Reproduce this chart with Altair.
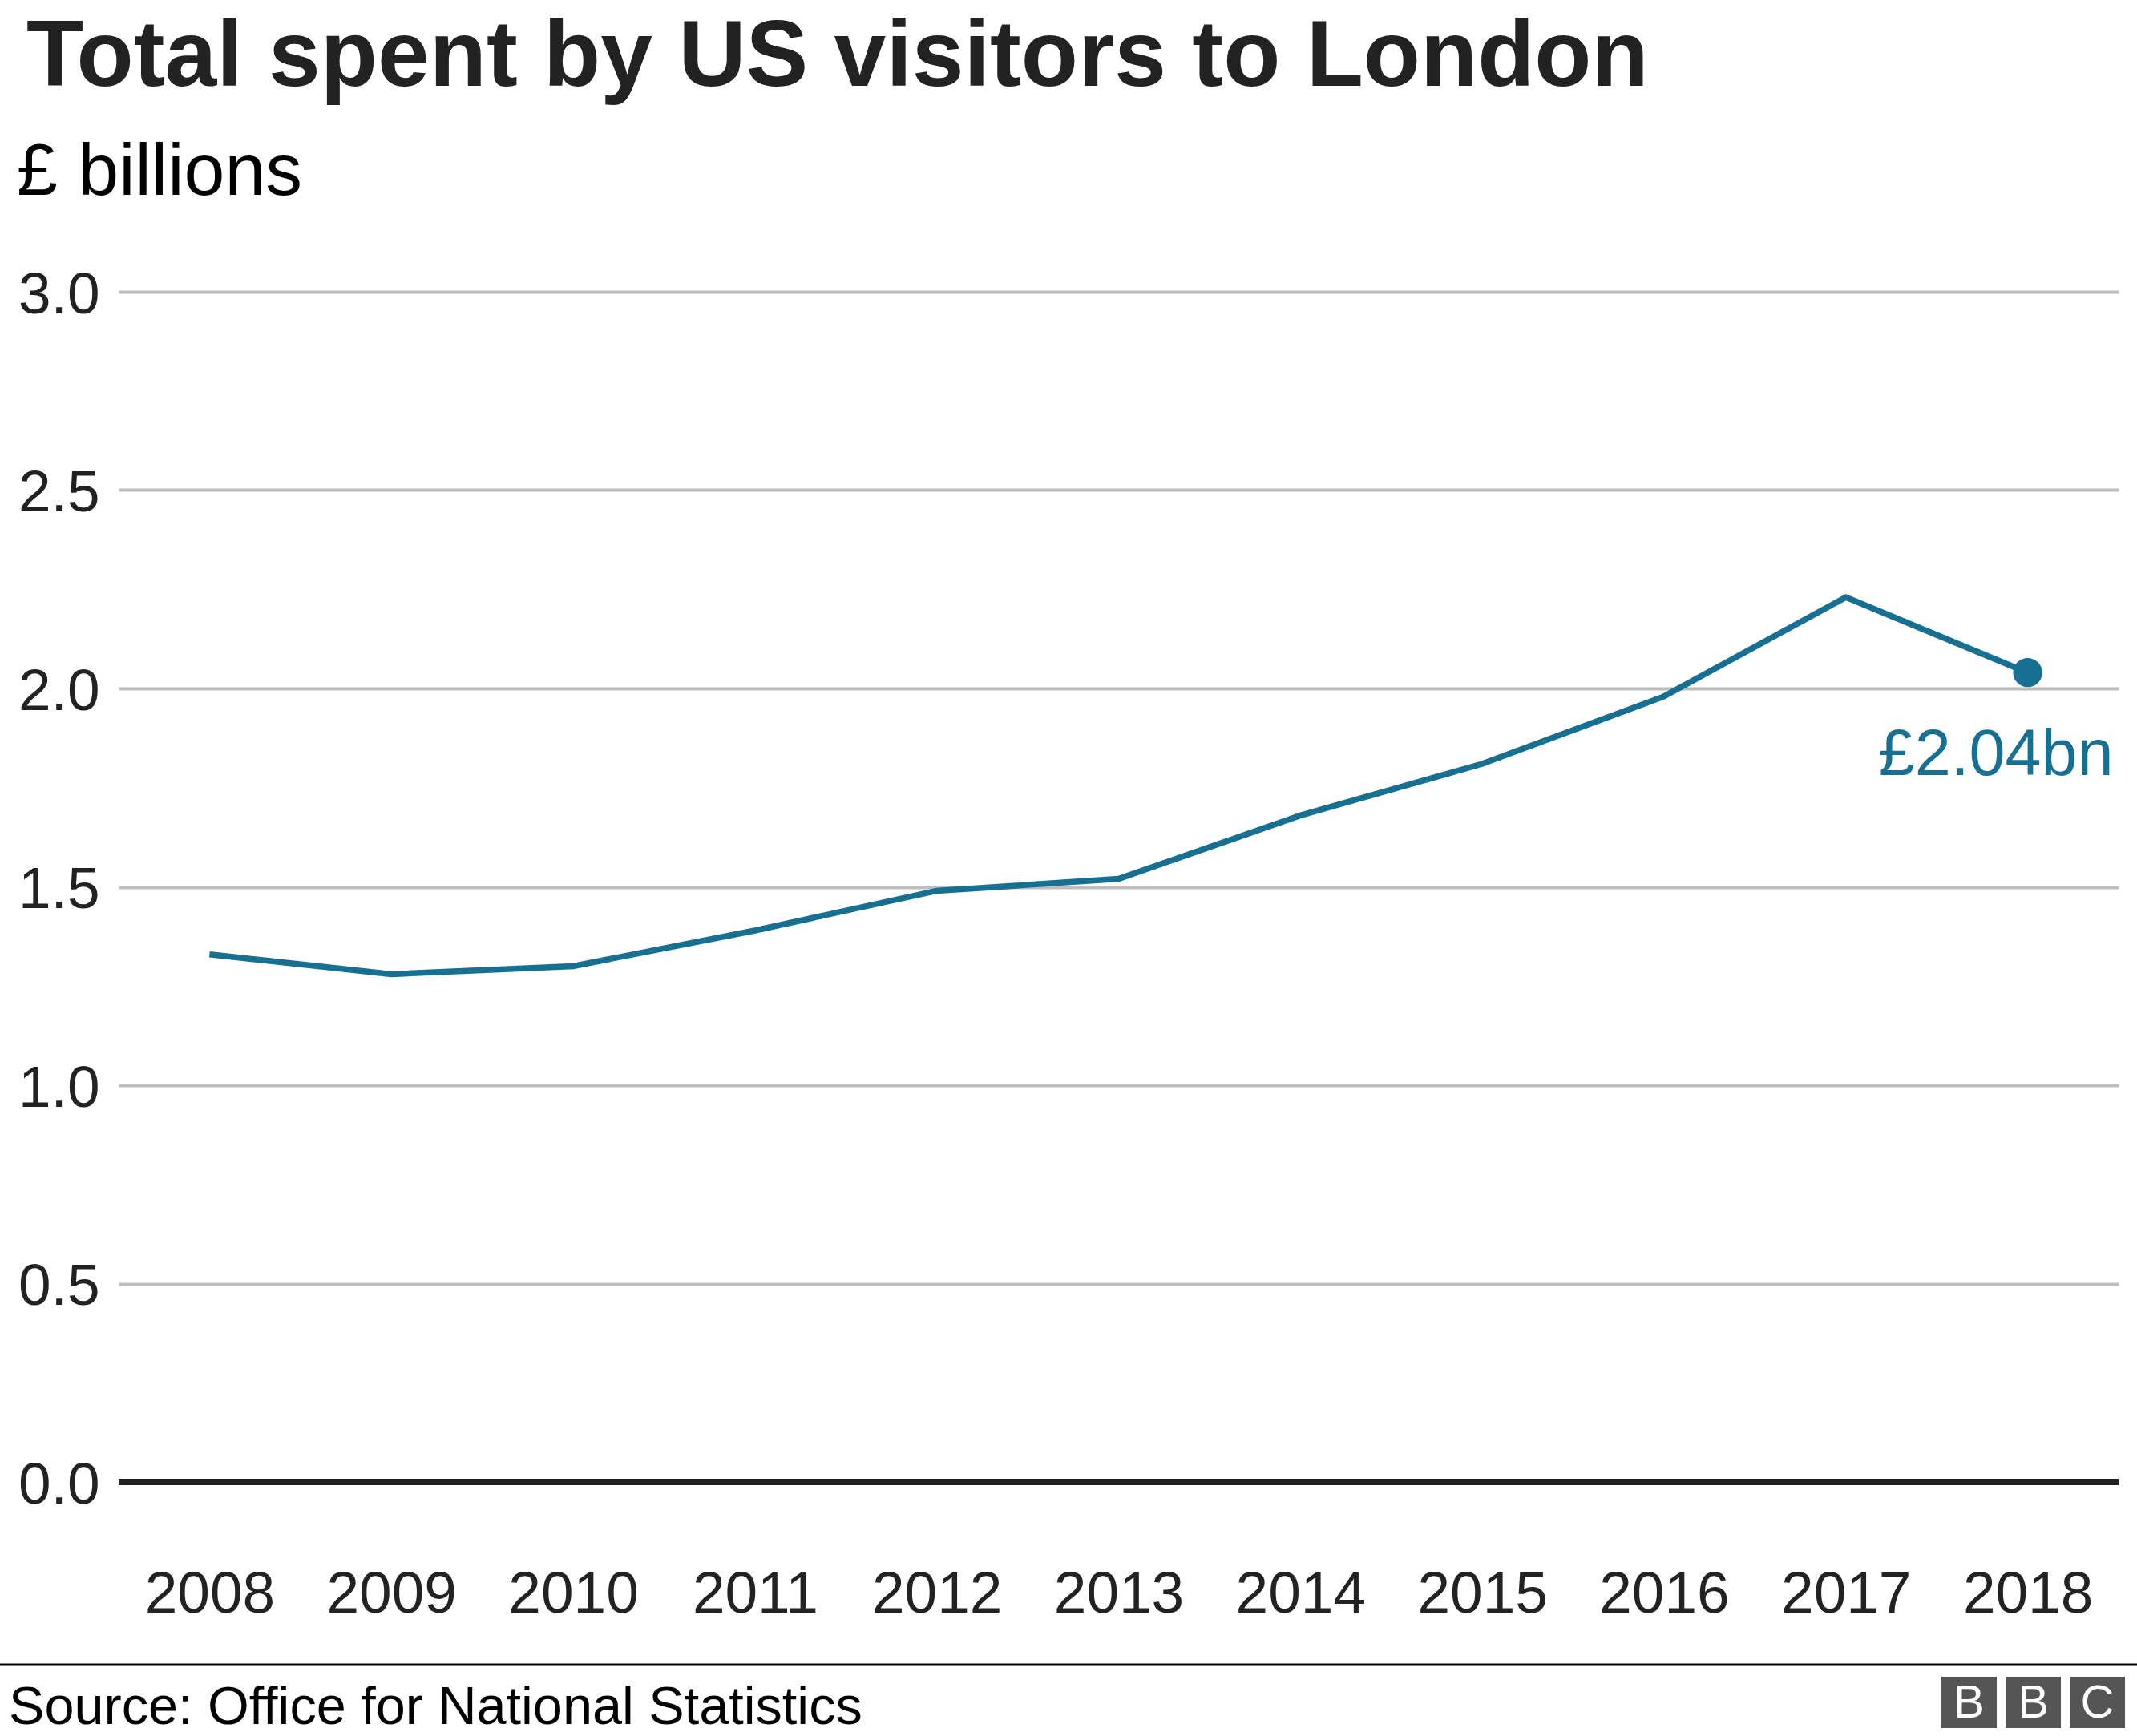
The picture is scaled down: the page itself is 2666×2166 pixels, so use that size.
import altair as alt
import pandas as pd

# ---- data ----
years = [2008, 2009, 2010, 2011, 2012, 2013, 2014, 2015, 2016, 2017, 2018]
spend = [1.33, 1.28, 1.30, 1.39, 1.49, 1.52, 1.68, 1.81, 1.98, 2.23, 2.04]
y_ticks = [0, 0.5, 1.0, 1.5, 2.0, 2.5, 3.0]
title_text = ["Total spent by US visitors to London"]
subtitle_text = ["£ billions"]
source_text = ["Source: Office for National Statistics"]
end_label = ["£2.04bn"]
logo_letters = ["B", "B", "C"]

FONT = "Liberation Sans"
BLUE = "#176f91"
INK = "#222222"

df = pd.DataFrame({"year": years, "spend": spend})
last = pd.DataFrame({"year": years[-1:], "spend": spend[-1:], "label": end_label})
zero_df = pd.DataFrame({"year": [2008], "spend": [0]})

x_scale = alt.Scale(domain=[2007.5, 2018.5], nice=False, zero=False)
y_scale = alt.Scale(domain=[0, 3], nice=False)
x_axis = alt.Axis(values=years, format="d", title=None, grid=False, domain=False,
                  ticks=False, labelFontSize=73, labelPadding=104, labelColor=INK,
                  labelFont=FONT, labelFlush=False, labelOverlap=False)
y_axis = alt.Axis(values=y_ticks, format=".1f", title=None, domain=False, ticks=False,
                  gridColor="#bebebe", gridWidth=4, labelFontSize=73, labelPadding=24,
                  labelOffset=4, labelColor=INK, labelFont=FONT)

x_enc = alt.X("year:Q", scale=x_scale, axis=x_axis)
y_enc = alt.Y("spend:Q", scale=y_scale, axis=y_axis)

line = alt.Chart(df).mark_line(color=BLUE, strokeWidth=7.5).encode(x=x_enc, y=y_enc)

zero = alt.Chart(zero_df).mark_rule(color=INK, strokeWidth=8).encode(y=y_enc)

pt = alt.Chart(last).mark_circle(size=1320, color=BLUE, opacity=1).encode(x=x_enc, y=y_enc)
lbl = alt.Chart(last).mark_text(
    color=BLUE, fontSize=81, font=FONT, align="right", baseline="alphabetic", dx=107, dy=128
).encode(x=x_enc, y=y_enc, text="label:N")

title = alt.Chart(pd.DataFrame({"t": title_text})).mark_text(
    fontSize=116.5, fontWeight="bold", font=FONT, color=INK, align="left", baseline="alphabetic"
).encode(text="t:N", x=alt.value(-115), y=alt.value(-257))

subtitle = alt.Chart(pd.DataFrame({"t": subtitle_text})).mark_text(
    fontSize=91.5, font=FONT, color="#000000", align="left", baseline="alphabetic"
).encode(text="t:N", x=alt.value(-127), y=alt.value(-121))

source = alt.Chart(pd.DataFrame({"t": source_text})).mark_text(
    fontSize=66.6, font=FONT, color="#000000", align="left", baseline="alphabetic"
).encode(text="t:N", x=alt.value(-137), y=alt.value(1787))

footer = alt.Chart(pd.DataFrame({"v": [0]})).mark_rule(color="#000000", strokeWidth=3).encode(
    x=alt.value(-148), x2=alt.value(2518), y=alt.value(1713)
)

logo_layers = []
for i, letter in enumerate(logo_letters):
    x0 = 2274 + 80 * i
    box = alt.Chart(pd.DataFrame({"l": [letter]})).mark_rect(color="#555555").encode(
        x=alt.value(x0), x2=alt.value(x0 + 69), y=alt.value(1728), y2=alt.value(1792)
    )
    txt = alt.Chart(pd.DataFrame({"l": [letter]})).mark_text(
        color="white", fontSize=58, font=FONT, align="center", baseline="middle"
    ).encode(text="l:N", x=alt.value(x0 + 34.5), y=alt.value(1762))
    logo_layers += [box, txt]

chart = alt.layer(
    zero, line, pt, lbl, title, subtitle, source, footer, *logo_layers
).properties(
    width=2495, height=1485,
    autosize=alt.AutoSizeParams(type="none"),
    padding={"left": 148, "top": 364, "right": 23, "bottom": 317},
    background="white",
).configure_view(stroke=None)

chart.save("out.html", embed_options={"renderer": "svg", "actions": False})
